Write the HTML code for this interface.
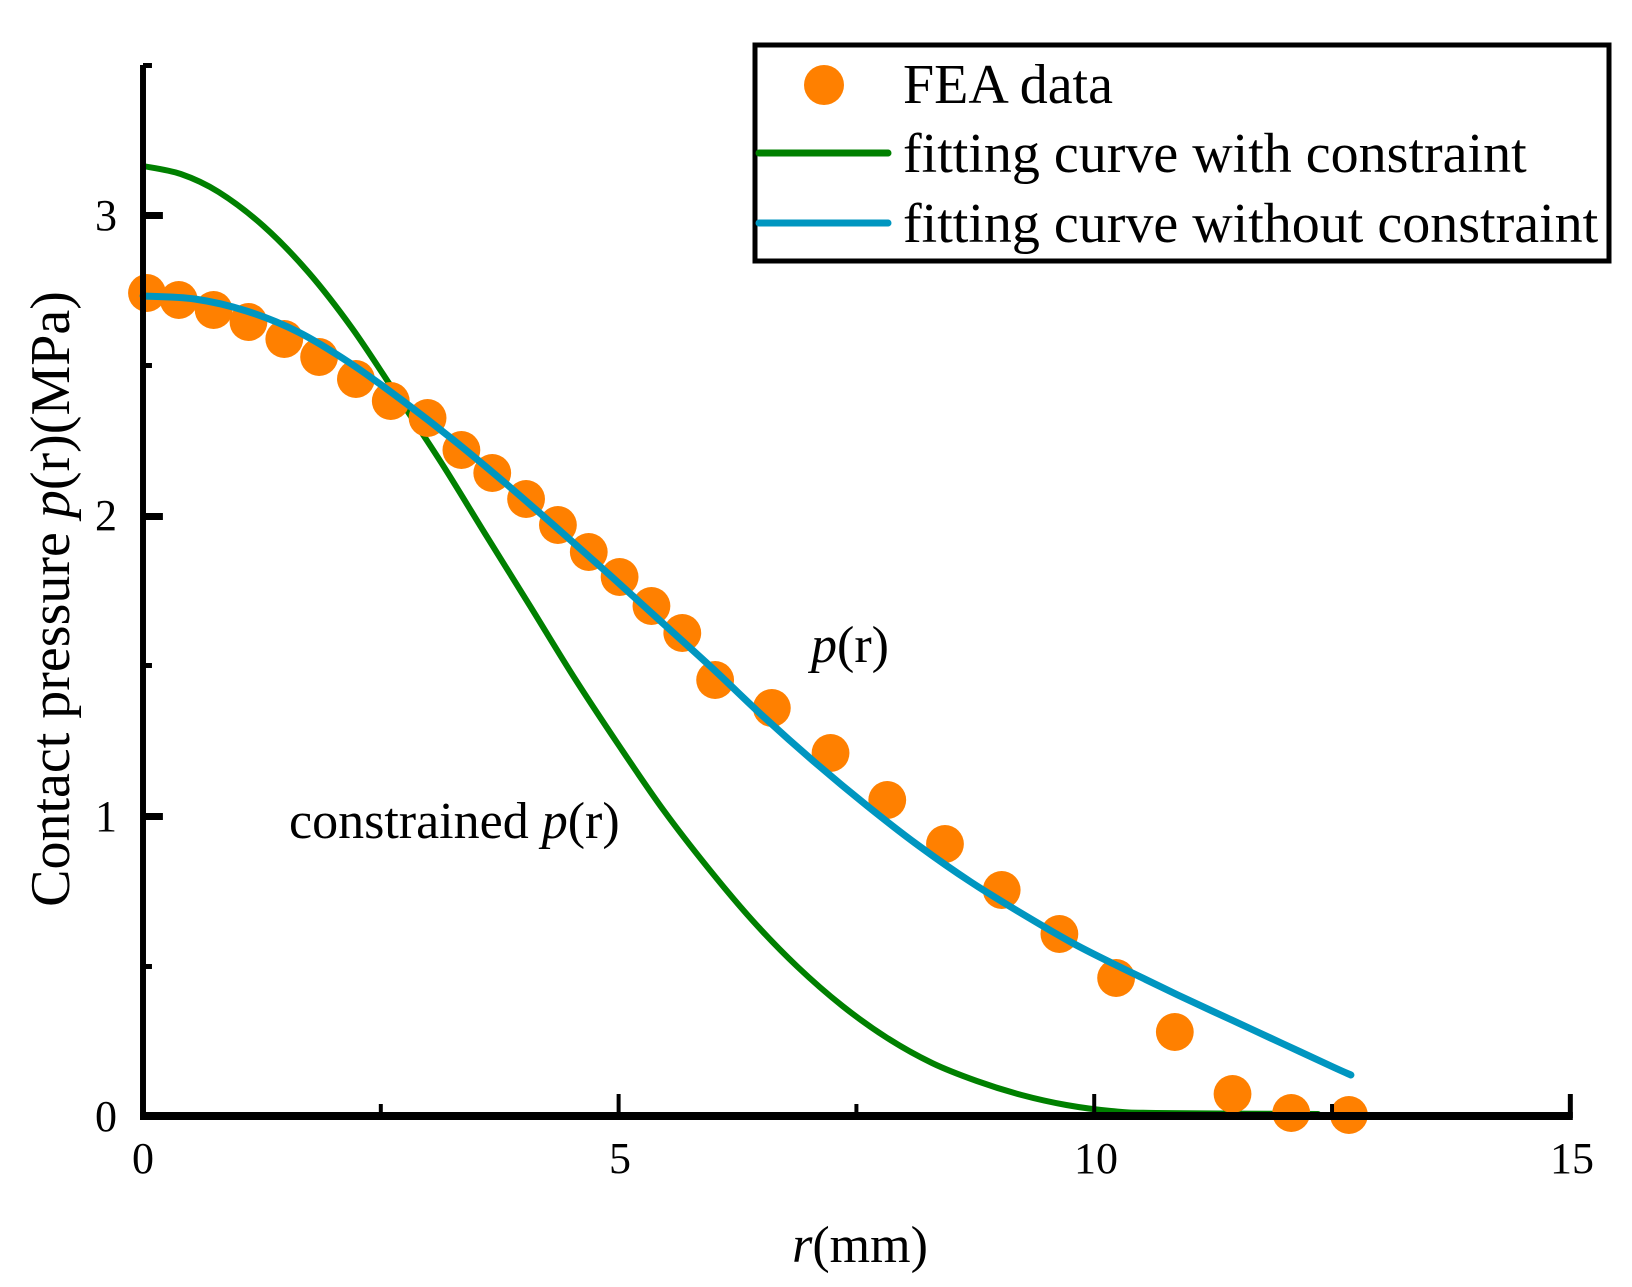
<!DOCTYPE html>
<html><head><meta charset="utf-8"><style>
html,body{margin:0;padding:0;background:#fff;}
svg{display:block;}
text{font-family:"Liberation Serif",serif;fill:#000;}
</style></head><body>
<svg width="1632" height="1287" viewBox="0 0 1632 1287" xmlns="http://www.w3.org/2000/svg">
<rect width="1632" height="1287" fill="#fff"/>
<g transform="translate(143,0) scale(0.995,1) translate(-143,0)">
<polyline id="g" fill="none" stroke="#008000" stroke-width="6" stroke-linejoin="round" stroke-linecap="round"
points="143,166 181,174 219,192 264,226 309,272 353,328 398,395 443,463 487,534 532,606 576,677 621,745 666,810 711,868 756,921 801,967 846,1006 891,1038 936,1063 981,1081 1026,1095 1071,1105 1116,1111 1161,1113 1324,1114"/>
<g fill="#FF8000">
<circle cx="147" cy="293" r="19"/><circle cx="179" cy="300" r="19"/><circle cx="214" cy="310" r="19"/>
<circle cx="249" cy="322" r="19"/><circle cx="285" cy="339" r="19"/><circle cx="320" cy="357" r="19"/>
<circle cx="357" cy="379" r="19"/><circle cx="392" cy="401" r="19"/><circle cx="429" cy="418" r="19"/>
<circle cx="463" cy="450" r="19"/><circle cx="494" cy="473" r="19"/><circle cx="528" cy="499" r="19"/>
<circle cx="560" cy="525" r="19"/><circle cx="591" cy="552" r="19"/><circle cx="622" cy="577" r="19"/>
<circle cx="654" cy="606" r="19"/><circle cx="685" cy="633" r="19"/><circle cx="718" cy="680" r="19"/>
<circle cx="775" cy="708" r="19"/><circle cx="834" cy="753" r="19"/><circle cx="891" cy="800" r="19"/>
<circle cx="949" cy="844" r="19"/><circle cx="1006" cy="890" r="19"/><circle cx="1064" cy="934" r="19"/>
<circle cx="1121" cy="978" r="19"/><circle cx="1180" cy="1032" r="19"/><circle cx="1238" cy="1094" r="19"/>
<circle cx="1297" cy="1113" r="19"/><circle cx="1355" cy="1115" r="19"/>
</g>
<polyline id="b" fill="none" stroke="#0096C0" stroke-width="7" stroke-linejoin="round" stroke-linecap="round"
points="143,296 195,299 247,311 299,332 351,363 403,400 455,440 507,483 559,528 611,574 663,621 715,668 767,717 819,763 871,806 923,846 975,882 1027,914 1079,944 1131,970 1183,995 1235,1019 1287,1043 1339,1067 1357,1075"/>
<rect x="140" y="65" width="6" height="1055" fill="#000"/>
<rect x="140" y="1112" width="1440" height="8" fill="#000"/>
<g fill="#000">
<rect x="141" y="1094" width="4" height="20"/>
<rect x="380" y="1104" width="4" height="10"/>
<rect x="619" y="1094" width="4" height="20"/>
<rect x="858" y="1104" width="4" height="10"/>
<rect x="1097" y="1094" width="4" height="20"/>
<rect x="1336" y="1104" width="4" height="10"/>
<rect x="1575" y="1094" width="5" height="24"/>
<rect x="143" y="212" width="20" height="7"/>
<rect x="143" y="513" width="20" height="7"/>
<rect x="143" y="813" width="20" height="7"/>
<rect x="143" y="363" width="9" height="5"/>
<rect x="143" y="663" width="9" height="5"/>
<rect x="143" y="964" width="9" height="5"/>
<rect x="143" y="63" width="9" height="5"/>
</g>
</g>
<g font-size="44" text-anchor="middle">
<text x="143" y="1173">0</text>
<text x="620" y="1173">5</text>
<text x="1096" y="1173">10</text>
<text x="1572" y="1173">15</text>
</g>
<g font-size="44" text-anchor="end">
<text x="117" y="1131">0</text>
<text x="117" y="831">1</text>
<text x="117" y="530">2</text>
<text x="117" y="230">3</text>
</g>
<text x="860" y="1262" font-size="52" text-anchor="middle"><tspan font-style="italic">r</tspan>(mm)</text>
<text transform="translate(69,599) rotate(-90)" font-size="56" text-anchor="middle">Contact pressure <tspan font-style="italic">p</tspan>(r)(MPa)</text>
<text x="811" y="662" font-size="52"><tspan font-style="italic">p</tspan>(r)</text>
<text x="289" y="838" font-size="52">constrained <tspan font-style="italic">p</tspan>(r)</text>
<rect x="755" y="45" width="854" height="216" fill="#fff" stroke="#000" stroke-width="5"/>
<circle cx="824" cy="85" r="20" fill="#FF8000"/>
<line x1="759" y1="153" x2="888" y2="153" stroke="#008000" stroke-width="7" stroke-linecap="round"/>
<line x1="759" y1="223" x2="888" y2="223" stroke="#0096C0" stroke-width="7" stroke-linecap="round"/>
<g font-size="56">
<text x="903" y="103">FEA data</text>
<text x="903" y="172">fitting curve with constraint</text>
<text x="903" y="242">fitting curve without constraint</text>
</g>
</svg>
<script>
(function(){
var ns="http://www.w3.org/2000/svg";
["g","b"].forEach(function(id){
var pl=document.getElementById(id);if(!pl)return;
var pts=pl.getAttribute("points").trim().split(/\s+/).map(function(s){return s.split(",").map(Number);});
var d="M"+pts[0][0]+","+pts[0][1];
for(var i=0;i<pts.length-1;i++){
var p0=pts[i-1]||pts[i],p1=pts[i],p2=pts[i+1],p3=pts[i+2]||p2;
var c1x=p1[0]+(p2[0]-p0[0])/6,c1y=p1[1]+(p2[1]-p0[1])/6;
var c2x=p2[0]-(p3[0]-p1[0])/6,c2y=p2[1]-(p3[1]-p1[1])/6;
d+=" C"+c1x+","+c1y+" "+c2x+","+c2y+" "+p2[0]+","+p2[1];}
var path=document.createElementNS(ns,"path");
["fill","stroke","stroke-width","stroke-linejoin","stroke-linecap"].forEach(function(a){path.setAttribute(a,pl.getAttribute(a));});
path.setAttribute("d",d);
pl.parentNode.replaceChild(path,pl);
});
})();
</script>
</body></html>
